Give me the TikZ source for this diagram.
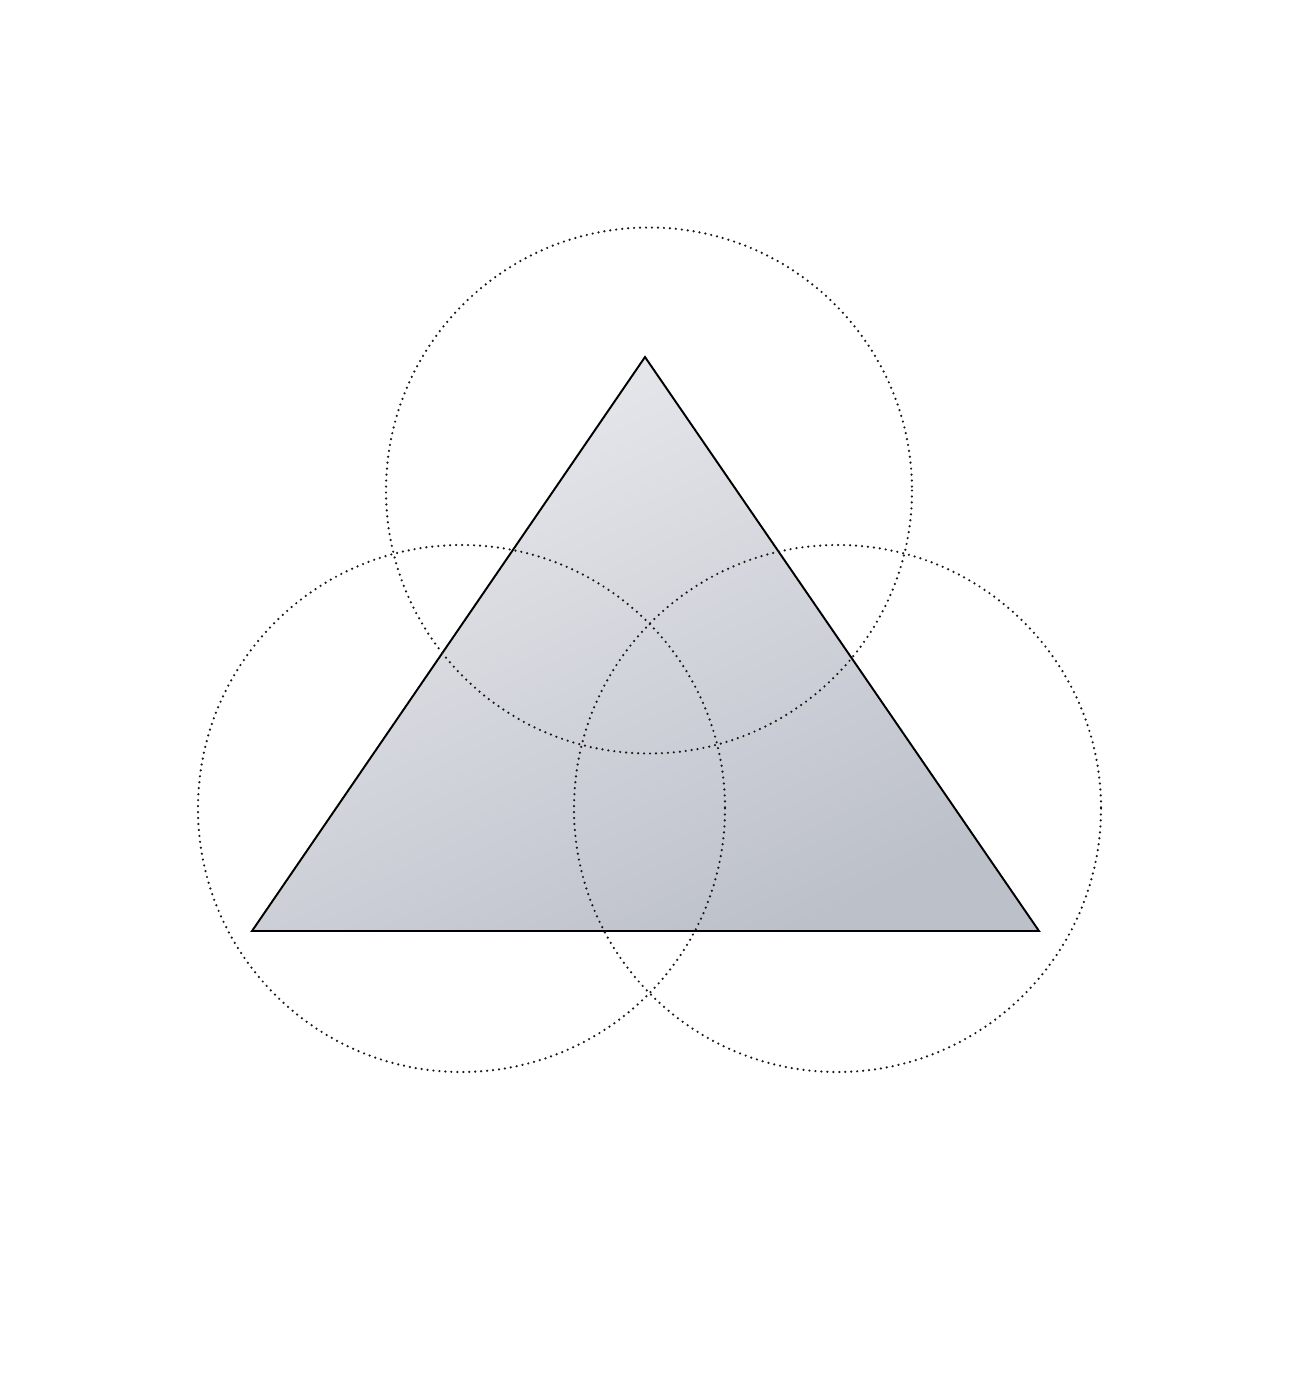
\documentclass[tikz,border=0pt]{standalone}
\begin{document}
\begin{tikzpicture}[x=0.02cm,y=-0.02cm,
  dotcircle/.style={line width=1.4pt, dash pattern=on 0pt off 3.4pt, line cap=round, black!90},
  triedge/.style={line width=1.1pt, black, line join=miter}]
\definecolor{trilight}{HTML}{E9EAEE}
\definecolor{tridark}{HTML}{BCC0C9}
\useasboundingbox[fill=white] (0,0) rectangle (1300,1390);
\coordinate (T) at (645,357);
\coordinate (L) at (252,931);
\coordinate (R) at (1039,931);
\coordinate (CT) at (649,490.5);
\coordinate (CL) at (461.5,808.5);
\coordinate (CR) at (837.5,808.5);
\shade[top color=trilight, bottom color=tridark, shading angle=25] (T) -- (L) -- (R) -- cycle;
\draw[triedge] (T) -- (L) -- (R) -- cycle;
\draw[dotcircle] (CT) circle[radius=263];
\draw[dotcircle] (CL) circle[radius=263.5];
\draw[dotcircle] (CR) circle[radius=263.5];
\end{tikzpicture}
\end{document}
